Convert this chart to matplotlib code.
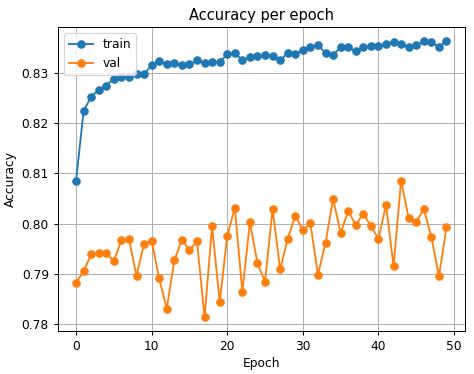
import matplotlib
matplotlib.use("Agg")
import matplotlib.pyplot as plt
from matplotlib.ticker import FormatStrFormatter

epochs = list(range(50))
train_acc = [0.8085, 0.8224, 0.8253, 0.8266, 0.8275, 0.8289, 0.8291, 0.8292, 0.8297, 0.8297,
             0.8316, 0.8324, 0.8317, 0.8320, 0.8316, 0.8317, 0.8325, 0.8320, 0.8321, 0.8322,
             0.8337, 0.8339, 0.8326, 0.8331, 0.8334, 0.8335, 0.8333, 0.8325, 0.8340, 0.8337,
             0.8346, 0.8351, 0.8355, 0.8340, 0.8336, 0.8351, 0.8351, 0.8343, 0.8351, 0.8353,
             0.8354, 0.8357, 0.8361, 0.8357, 0.8352, 0.8355, 0.8363, 0.8361, 0.8352, 0.8364]
val_acc = [0.7883, 0.7905, 0.7939, 0.7941, 0.7941, 0.7926, 0.7967, 0.7970, 0.7896, 0.7960,
           0.7966, 0.7891, 0.7831, 0.7927, 0.7968, 0.7947, 0.7965, 0.7814, 0.7995, 0.7844,
           0.7975, 0.8032, 0.7865, 0.8003, 0.7921, 0.7885, 0.8029, 0.7909, 0.7970, 0.8016,
           0.7987, 0.8001, 0.7898, 0.7962, 0.8049, 0.7982, 0.8025, 0.7998, 0.8020, 0.7995,
           0.7970, 0.8037, 0.7916, 0.8086, 0.8011, 0.8004, 0.8029, 0.7974, 0.7895, 0.7993]

DPI = 88
fig, ax = plt.subplots(figsize=(474 / DPI, 374 / DPI), dpi=DPI)
ax.plot(epochs, train_acc, marker='o', label='train')
ax.plot(epochs, val_acc, marker='o', label='val')
ax.set_title('Accuracy per epoch')
ax.set_xlabel('Epoch')
ax.set_ylabel('Accuracy')
ax.yaxis.set_major_formatter(FormatStrFormatter('%.2f'))
ax.grid(True)
ax.legend(loc='upper left')
fig.subplots_adjust(left=57.5 / 474, right=465 / 474, bottom=1 - 331 / 374, top=1 - 27 / 374)
fig.savefig('out.png', dpi=DPI)
